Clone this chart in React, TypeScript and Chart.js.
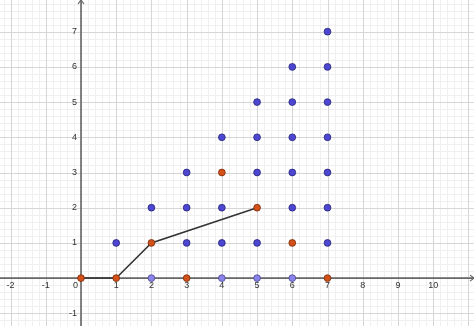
import React, { useEffect, useRef } from "react";
import { Chart, registerables } from "chart.js";

Chart.register(...registerables);

const X_MIN = -2.3;
const X_MAX = 11.16;
const Y_MIN = -1.36;
const Y_MAX = 7.9;

const xTickLabels = [-2, -1, 1, 2, 3, 4, 5, 6, 7, 8, 9, 10];
const yTickLabels = [-1, 1, 2, 3, 4, 5, 6, 7];

const pathPoints = [
  [0, 0],
  [1, 0],
  [2, 1],
  [5, 2],
];

const bluePoints = [
  [1, 1], [2, 2], [3, 1], [3, 2], [3, 3],
  [4, 1], [4, 2], [4, 4],
  [5, 1], [5, 3], [5, 4], [5, 5],
  [6, 2], [6, 3], [6, 4], [6, 5], [6, 6],
  [7, 1], [7, 2], [7, 3], [7, 4], [7, 5], [7, 6], [7, 7],
];

const orangePoints = [
  [0, 0], [1, 0], [2, 1], [3, 0], [4, 3], [5, 2], [6, 1], [7, 0],
];

const lavenderPoints = [
  [2, 0], [4, 0], [5, 0], [6, 0],
];

const toXY = (arr: number[][]) => arr.map(([x, y]) => ({ x, y }));

const gridPlugin = {
  id: "ggbGrid",
  beforeDatasetsDraw(chart: any) {
    const { ctx, chartArea, scales } = chart;
    const xs = scales.x;
    const ys = scales.y;
    const { left, right, top, bottom } = chartArea;
    ctx.save();
    // minor grid
    ctx.lineWidth = 1;
    ctx.strokeStyle = "#f0f0f0";
    ctx.beginPath();
    for (let i = Math.ceil(X_MIN * 5); i <= Math.floor(X_MAX * 5); i++) {
      if (i % 5 === 0) continue;
      const px = Math.round(xs.getPixelForValue(i / 5)) + 0.5;
      ctx.moveTo(px, top);
      ctx.lineTo(px, bottom);
    }
    for (let i = Math.ceil(Y_MIN * 5); i <= Math.floor(Y_MAX * 5); i++) {
      if (i % 5 === 0) continue;
      const py = Math.round(ys.getPixelForValue(i / 5)) + 0.5;
      ctx.moveTo(left, py);
      ctx.lineTo(right, py);
    }
    ctx.stroke();
    // major grid
    ctx.strokeStyle = "#d6d6d6";
    ctx.beginPath();
    for (let i = Math.ceil(X_MIN); i <= Math.floor(X_MAX); i++) {
      const px = Math.round(xs.getPixelForValue(i)) + 0.5;
      ctx.moveTo(px, top);
      ctx.lineTo(px, bottom);
    }
    for (let i = Math.ceil(Y_MIN); i <= Math.floor(Y_MAX); i++) {
      const py = Math.round(ys.getPixelForValue(i)) + 0.5;
      ctx.moveTo(left, py);
      ctx.lineTo(right, py);
    }
    ctx.stroke();
    // axes
    const ox = xs.getPixelForValue(0);
    const oy = ys.getPixelForValue(0);
    ctx.strokeStyle = "#666666";
    ctx.lineWidth = 1.6;
    ctx.beginPath();
    ctx.moveTo(left, oy);
    ctx.lineTo(right, oy);
    ctx.moveTo(ox, bottom);
    ctx.lineTo(ox, top);
    ctx.stroke();
    // arrows
    ctx.lineWidth = 1.2;
    ctx.beginPath();
    ctx.moveTo(right - 4, oy - 3);
    ctx.lineTo(right, oy);
    ctx.lineTo(right - 4, oy + 3);
    ctx.moveTo(ox - 3, top + 4);
    ctx.lineTo(ox, top);
    ctx.lineTo(ox + 3, top + 4);
    ctx.stroke();
    // labels
    ctx.fillStyle = "#333333";
    ctx.font = "9px 'Liberation Sans', Arial, sans-serif";
    ctx.textAlign = "center";
    ctx.textBaseline = "middle";
    xTickLabels.forEach((v) => {
      const px = xs.getPixelForValue(v);
      ctx.fillText(String(v), px, oy + 7);
    });
    ctx.textAlign = "right";
    ctx.fillText("0", ox - 3, oy + 7);
    yTickLabels.forEach((v) => {
      const py = ys.getPixelForValue(v);
      ctx.fillText(String(v), ox - 4, py);
    });
    ctx.restore();
  },
};

export default function App() {
  const ref = useRef<HTMLCanvasElement | null>(null);
  useEffect(() => {
    document.body.style.margin = "0";
    if (!ref.current) return;
    const chart = new Chart(ref.current, {
      type: "scatter",
      data: {
        datasets: [
          {
            label: "path",
            type: "line",
            data: toXY(pathPoints),
            borderColor: "#333333",
            borderWidth: 1.5,
            pointRadius: 0,
            fill: false,
            tension: 0,
            order: 10,
          } as any,
          {
            label: "blue",
            data: toXY(bluePoints),
            backgroundColor: "#4c46d0",
            borderColor: "#26237a",
            borderWidth: 0.8,
            pointRadius: 3.4,
            order: 1,
          },
          {
            label: "lavender",
            data: toXY(lavenderPoints),
            backgroundColor: "#8a84ea",
            borderColor: "#4a4690",
            borderWidth: 0.8,
            pointRadius: 3.4,
            order: 1,
          },
          {
            label: "orange",
            data: toXY(orangePoints),
            backgroundColor: "#d2501a",
            borderColor: "#7a2a08",
            borderWidth: 0.8,
            pointRadius: 3.4,
            order: 0,
          },
        ],
      },
      options: {
        animation: false,
        responsive: false,
        layout: { padding: 0, autoPadding: false },
        plugins: { legend: { display: false }, tooltip: { enabled: false } },
        scales: {
          x: { type: "linear", min: X_MIN, max: X_MAX, display: false },
          y: { type: "linear", min: Y_MIN, max: Y_MAX, display: false },
        },
      },
      plugins: [gridPlugin],
    });
    return () => chart.destroy();
  }, []);
  return (
    <div style={{ width: 474, height: 326 }}>
      <canvas ref={ref} width={474} height={326} style={{ display: "block" }} />
    </div>
  );
}
